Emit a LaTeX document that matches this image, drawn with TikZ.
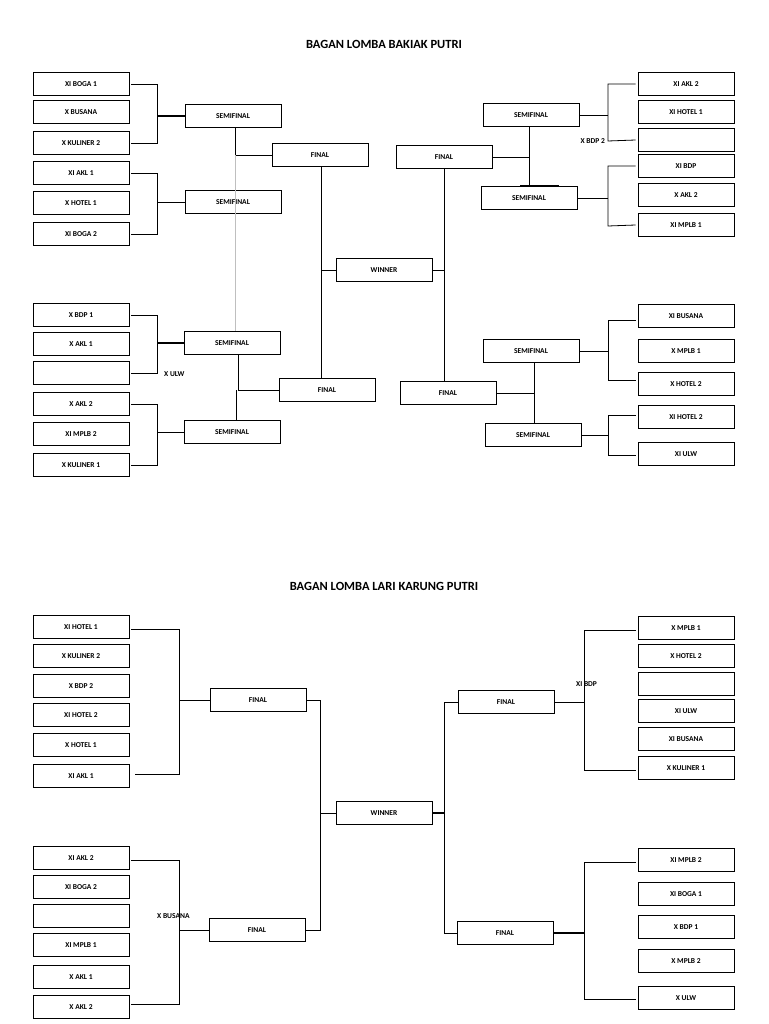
\documentclass[tikz,border=0pt]{standalone}
\usepackage{fontspec}
\setmainfont{Carlito}
\begin{document}
\begin{tikzpicture}[x=1pt,y=-1pt,
  tbox/.style={draw,line width=0.9pt,minimum width=96pt,minimum height=23pt,inner sep=0pt,font=\bfseries\fontsize{7.5}{8}\selectfont},
  ln/.style={line width=0.8pt},
  thk/.style={line width=1.6pt},
  lbl/.style={font=\bfseries\fontsize{7.5}{8}\selectfont,inner sep=1pt},
  ttl/.style={font=\bfseries\fontsize{12.5}{14}\selectfont}]
\useasboundingbox (0,0) rectangle (768,1024);
\fill[white] (0,0) rectangle (768,1024);
% ===== TOP =====
\node[ttl] (t1) at (384,44) {BAGAN LOMBA BAKIAK PUTRI};
\foreach \n/\y/\t in {a1/84/XI BOGA 1,a2/112/X BUSANA,a3/143/X KULINER 2,a4/173/XI AKL 1,a5/203/X HOTEL 1,a6/234/XI BOGA 2,a7/315/X BDP 1,a8/344/X AKL 1,a9/373/,a10/404/X AKL 2,a11/434/XI MPLB 2,a12/465/X KULINER 1}
  \node[tbox] (\n) at (81,\y) {\t};
\foreach \n/\y/\t in {b1/84/XI AKL 2,b2/112/XI HOTEL 1,b3/140/,b4/166/XI BDP,b5/195/X AKL 2,b6/225/XI MPLB 1,b7/316/XI BUSANA,b8/351/X MPLB 1,b9/384/X HOTEL 2,b10/417/XI HOTEL 2,b11/454/XI ULW}
  \node[tbox] (\n) at (686,\y) {\t};
\node[tbox] (s1) at (233,116) {SEMIFINAL};
\node[tbox] (s2) at (233,202) {SEMIFINAL};
\node[tbox] (s3) at (232,343) {SEMIFINAL};
\node[tbox] (s4) at (232,432) {SEMIFINAL};
\node[tbox] (f1) at (320,155) {FINAL};
\node[tbox] (f2) at (327,390) {FINAL};
\node[tbox] (w1) at (384,270) {WINNER};
\node[tbox] (r1) at (531,115) {SEMIFINAL};
\node[tbox] (r2) at (529,198) {SEMIFINAL};
\node[tbox] (r3) at (531,351) {SEMIFINAL};
\node[tbox] (r4) at (533,435) {SEMIFINAL};
\node[tbox] (g1) at (444,157) {FINAL};
\node[tbox] (g2) at (448,393) {FINAL};
% left brackets
\draw[ln] ([xshift=2pt]a1.east) -| (157,143) -- ([xshift=2pt]a3.east);
\draw[thk] (s1.west -| 157,0) -- (s1.west);
\draw[ln] ([xshift=2pt]a4.east) -| (157,234) -- ([xshift=2pt]a6.east);
\draw[ln] (s2.west -| 157,0) -- (s2.west);
\draw[ln] ([xshift=2pt]a7.east) -| (157,373) -- ([xshift=2pt]a9.east);
\draw[thk] (s3.west -| 157,0) -- (s3.west);
\node[lbl,anchor=west] (xulw) at (163,374) {X ULW};
\draw[ln] ([xshift=2pt]a10.east) -| (157,465) -- ([xshift=2pt]a12.east);
\draw[ln] (s4.west -| 157,0) -- (s4.west);
\draw[ln] (235,127.5) -- (f1.west -| 235,0) -- (f1.west);
\draw[line width=0.8pt,black!25] (f1.west -| 235,0) -- (s3.north -| 235,0);
\draw[ln] (s3.south -| 238,0) -- (f2.west -| 238,0) -- (f2.west);
\draw[ln] (s4.north -| 236,0) -- (f2.west -| 236,0);
\draw[ln] (f1.south -| 321,0) -- (f2.north -| 321,0);
\draw[ln] (w1.west -| 321,0) -- (w1.west);
% right brackets
\draw[ln] ([xshift=-2pt]b1.west) -| (608,141) -- ([xshift=-2pt]b3.west);
\draw[ln] (r1.east -| 608,0) -- (r1.east);
\node[lbl,anchor=east] (xbdp) at (606,141) {X BDP 2};
\draw[ln] ([xshift=-2pt]b4.west) -| (608,226) -- ([xshift=-2pt]b6.west);
\draw[ln] (r2.east -| 608,0) -- (r2.east);
\draw[ln] (636,320) -- (608,320) -- (608,380) -- (636,380);
\draw[ln] (r3.east -| 608,0) -- (r3.east);
\draw[ln] (636,415) -- (608,415) -- (608,455) -- (636,455);
\draw[ln] (r4.east -| 608,0) -- (r4.east);
\draw[ln] (r1.south -| 529,0) -- (r2.north -| 529,0);
\draw[thk] (r2.north -| 520,0) -- (r2.north -| 559,0);
\draw[ln] (g1.east) -- (g1.east -| 529,0);
\draw[ln] (g1.south -| 444,0) -- (g2.north -| 444,0);
\draw[ln] (w1.east) -- (w1.east -| 444,0);
\draw[ln] (r3.south -| 534,0) -- (r4.north -| 534,0);
\draw[ln] (g2.east) -- (g2.east -| 534,0);
% ===== BOTTOM =====
\node[ttl] (t2) at (384,586) {BAGAN LOMBA LARI KARUNG PUTRI};
\foreach \n/\y/\t in {c1/627/XI HOTEL 1,c2/656/X KULINER 2,c3/686/X BDP 2,c4/715/XI HOTEL 2,c5/745/X HOTEL 1,c6/776/XI AKL 1,c7/858/XI AKL 2,c8/887/XI BOGA 2,c9/916/,c10/945/XI MPLB 1,c11/977/X AKL 1,c12/1007/X AKL 2}
  \node[tbox] (\n) at (81,\y) {\t};
\foreach \n/\y/\t in {d1/628/X MPLB 1,d2/656/X HOTEL 2,d3/684/,d4/711/XI ULW,d5/739/XI BUSANA,d6/768/X KULINER 1,d7/860/XI MPLB 2,d8/894/XI BOGA 1,d9/927/X BDP 1,d10/961/X MPLB 2,d11/998/X ULW}
  \node[tbox] (\n) at (686,\y) {\t};
\node[tbox] (h1) at (258,700) {FINAL};
\node[tbox] (h2) at (257,930) {FINAL};
\node[tbox] (w2) at (384,813) {WINNER};
\node[tbox] (k1) at (506,702) {FINAL};
\node[tbox] (k2) at (505,933) {FINAL};
\draw[ln] (131,629) -- (179,629) -- (179,774) -- (135,774);
\draw[ln] (h1.west -| 179,0) -- (h1.west);
\draw[ln] (131,860) -- (179,860) -- (179,1004) -- (131,1004);
\draw[ln] (h2.west -| 179,0) -- (h2.west);
\node[lbl,anchor=west] (xbus) at (156,916) {X BUSANA};
\draw[ln] (h1.east) -- (h1.east -| 320,0) -- (h2.east -| 320,0) -- (h2.east);
\draw[ln] (w2.west -| 320,0) -- (w2.west);
\draw[ln] (636,630) -- (584,630) -- (584,770) -- (636,770);
\draw[ln] (k1.east -| 584,0) -- (k1.east);
\node[lbl,anchor=west] (xibdp) at (575,684) {XI BDP};
\draw[ln] (636,862) -- (584,862) -- (584,999) -- (636,999);
\draw[thk] (k2.east -| 584,0) -- (k2.east);
\draw[ln] (k1.west) -- (k1.west -| 444,0) -- (k2.west -| 444,0) -- (k2.west);
\draw[thk] (w2.east) -- (w2.east -| 444,0);
\end{tikzpicture}
\end{document}
